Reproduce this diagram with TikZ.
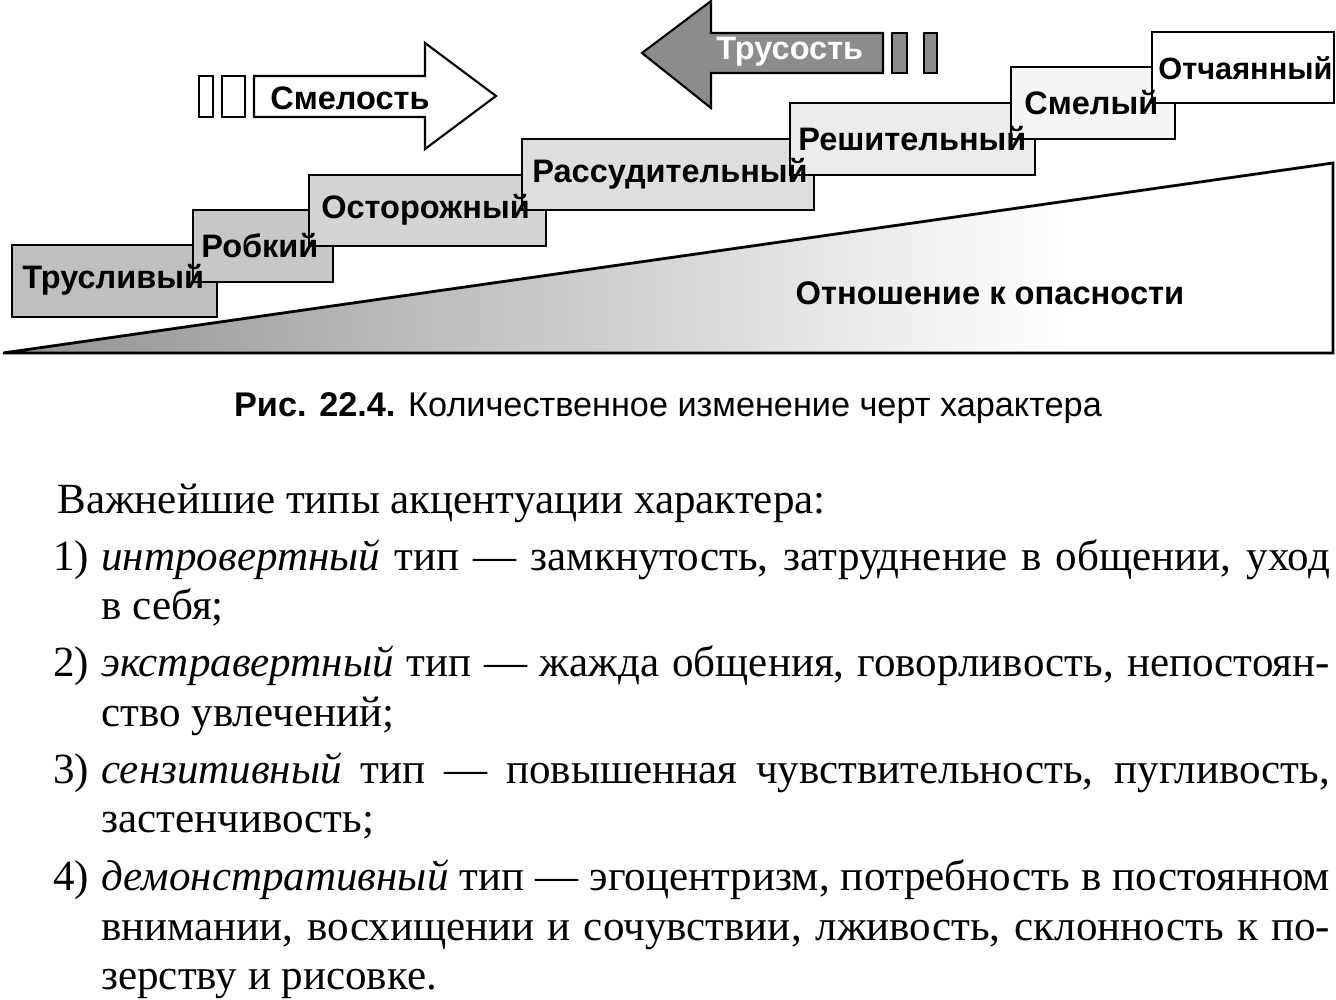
\documentclass[tikz,border=0pt]{standalone}
\usepackage{fontspec}
\setmainfont{Liberation Serif}
\setsansfont{Liberation Sans}
\usetikzlibrary{positioning}
\pgfdeclarehorizontalshading{dangershade}{100bp}{color(0bp)=(black!70); color(65bp)=(white); color(100bp)=(white)}
\tikzset{
  stepbox/.style={draw, line width=1.2pt},
  steplabel/.style={anchor=west, font=\sffamily\bfseries\fontsize{18.5}{20}\selectfont, inner sep=0pt},
  bodyline/.style={anchor=base west, inner sep=0pt, font=\fontsize{24.5}{28}\selectfont},
}
\newcommand{\fullline}[1]{\makebox[24.58cm][s]{#1}}
\begin{document}
\begin{tikzpicture}[x=0.02cm, y=-0.02cm]
    \useasboundingbox[fill=white] (0,0) rectangle (1336,1000);
    % Triangle of attitude to danger
    \shade[shading=dangershade] (3,353) -- (1333,353) -- (1333,163) -- cycle;
    \draw[line width=1.6pt] (3,353) -- (1333,353) -- (1333,163) -- cycle;
    \node[font=\sffamily\bfseries\fontsize{18.6}{21}\selectfont] (attitude) at (990,293) {Отношение к опасности};

    % Steps
    \draw[stepbox, fill=black!25] (12,245) rectangle (217,317);
    \draw[stepbox, fill=black!22] (193,210) rectangle (333,282);
    \draw[stepbox, fill=black!17] (309,175) rectangle (546,246);
    \draw[stepbox, fill=black!13] (522,139) rectangle (814,210);
    \draw[stepbox, fill=black!8] (790,103) rectangle (1035,175);
    \draw[stepbox, fill=black!4] (1011,67) rectangle (1175,139);
    \draw[stepbox, fill=white] (1152,32) rectangle (1334,103);
    \node[steplabel] (coward) at (22,280) {Трусливый};
    \node[steplabel] (timid) at (201,246) {Робкий};
    \node[steplabel] (careful) at (321,210) {Осторожный};
    \node[steplabel] (prudent) at (532,174) {Рассудительный};
    \node[steplabel] (decisive) at (798,139) {Решительный};
    \node[steplabel] (brave) at (1024,103) {Смелый};
    \node[steplabel, font=\sffamily\bfseries\fontsize{17.5}{20}\selectfont] (desperate) at (1158,68) {Отчаянный};

    % Arrow of courage
    \draw[stepbox, fill=white] (199,76) rectangle (213,117);
    \draw[stepbox, fill=white] (222,76) rectangle (245,117);
    \draw[stepbox, fill=white] (254,76) -- (425,76) -- (425,43) -- (496,96) -- (425,149) -- (425,117) -- (254,117) -- cycle;
    \node[steplabel] (courage) at (270,98) {Смелость};

    % Arrow of cowardice
    \draw[stepbox, fill=black!45] (892,33) rectangle (907,73);
    \draw[stepbox, fill=black!45] (924,33) rectangle (937,73);
    \draw[stepbox, fill=black!45] (883,33) -- (711,33) -- (711,1) -- (642,53) -- (711,108) -- (711,73) -- (883,73) -- cycle;
    \node[steplabel, text=white] (cowardice) at (716,52) {Трусость};

    % Caption
    \node[font=\sffamily\fontsize{19.5}{22}\selectfont] (caption) at (668,408)
        {\textbf{Рис. 22.4.} Количественное изменение черт характера};

    % Text below
    \node[bodyline] (intro) at (57,513) {Важнейшие типы акцентуации характера:};
    \node[bodyline] (n1) at (53,570) {1)};
    \node[bodyline] (t1a) at (101,570) {\fullline{\textit{интровертный} тип — замкнутость, затруднение в общении, уход}};
    \node[bodyline] (t1b) at (101,619) {в себя;};
    \node[bodyline] (n2) at (53,676) {2)};
    \node[bodyline] (t2a) at (101,676) {\fullline{\textit{экстравертный} тип — жажда общения, говорливость, непостоян-}};
    \node[bodyline] (t2b) at (101,726) {ство увлечений;};
    \node[bodyline] (n3) at (53,783) {3)};
    \node[bodyline] (t3a) at (101,783) {\fullline{\textit{сензитивный} тип — повышенная чувствительность, пугливость,}};
    \node[bodyline] (t3b) at (101,832) {застенчивость;};
    \node[bodyline] (n4) at (53,890) {4)};
    \node[bodyline] (t4a) at (101,890) {\fullline{\textit{демонстративный} тип — эгоцентризм, потребность в постоянном}};
    \node[bodyline] (t4b) at (101,940) {\fullline{внимании, восхищении и сочувствии, лживость, склонность к по-}};
    \node[bodyline] (t4c) at (101,989) {зерству и рисовке.};
\end{tikzpicture}
\end{document}
